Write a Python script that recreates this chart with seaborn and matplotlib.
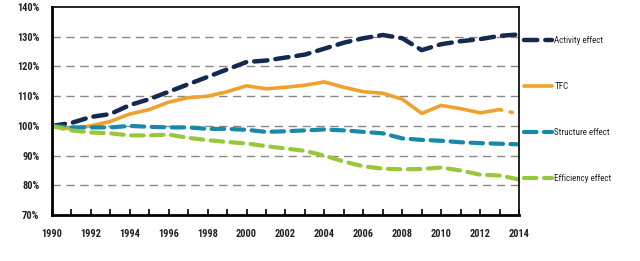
import seaborn as sns
import matplotlib.pyplot as plt
from matplotlib import font_manager
import pandas as pd

years = list(range(1990, 2015))
activity = [100, 101, 103, 104, 107, 109, 111.5, 114, 116.5, 119, 121.5, 122, 123, 124,
            126, 128, 129.5, 130.6, 129.5, 125.5, 127.5, 128.5, 129.2, 130.3, 130.8]
tfc = [100, 99, 100, 101.5, 104, 105.5, 108, 109.5, 110, 111.5, 113.5, 112.5, 113, 113.7,
       114.8, 113, 111.5, 111, 109, 104.2, 106.9, 105.8, 104.4, 105.5]
tfc_2014 = 104
structure = [100, 99.5, 99.5, 99.5, 100, 99.7, 99.5, 99.5, 99, 99, 98.7, 98, 98.2, 98.5,
             98.8, 98.5, 98, 97.5, 95.8, 95.3, 95, 94.5, 94.2, 94, 93.8]
efficiency = [100, 98.5, 97.8, 97.5, 96.8, 96.8, 97.1, 96, 95.2, 94.6, 94.1, 93.2, 92.4, 91.6,
              90, 88, 86.4, 85.6, 85.4, 85.5, 86, 85, 83.6, 83.3, 82]

names = ['Activity effect', 'TFC', 'Structure effect', 'Efficiency effect']
colors = ['#14294f', '#f0a12c', '#1688a8', '#97c83a']

sns.set_style('white')
# narrow font if one is there
installed = {f.name for f in font_manager.fontManager.ttflist}
narrow = [n for n in ['Liberation Sans Narrow', 'DejaVu Sans Condensed', 'Roboto Condensed',
                      'Open Sans Condensed'] if n in installed]
plt.rcParams['font.family'] = narrow[:1] + ['DejaVu Sans']

fig = plt.figure(figsize=(6.4, 2.61), dpi=100)
ax = fig.add_axes([0.081, 0.176, 0.73, 0.797])

for y in [80, 90, 100, 110, 120, 130]:
    ax.axhline(y, color='#888888', lw=1, ls=(0, (6, 4)), zorder=0)

df_act = pd.DataFrame({'year': years, 'value': activity})
df_tfc = pd.DataFrame({'year': years[:-1], 'value': tfc})
df_tfc_end = pd.DataFrame({'year': years[-2:], 'value': [tfc[-1], tfc_2014]})
df_str = pd.DataFrame({'year': years, 'value': structure})
df_eff = pd.DataFrame({'year': years, 'value': efficiency})

dash = (0, (3.0, 1.8))
sns.lineplot(data=df_act, x='year', y='value', color=colors[0], lw=3.2, ls=dash,
             dash_capstyle='round', ax=ax, label=names[0])
sns.lineplot(data=df_tfc, x='year', y='value', color=colors[1], lw=2.6, ax=ax, label=names[1])
sns.lineplot(data=df_tfc_end, x='year', y='value', color=colors[1], lw=2.6, ls=(0, (0.6, 2.4)),
             dash_capstyle='round', ax=ax)
sns.lineplot(data=df_str, x='year', y='value', color=colors[2], lw=3, ls=dash,
             dash_capstyle='round', ax=ax, label=names[2])
sns.lineplot(data=df_eff, x='year', y='value', color=colors[3], lw=3, ls=dash,
             dash_capstyle='round', ax=ax, label=names[3])

ax.set_xlim(1990, 2014)
ax.set_ylim(70, 140)
ax.set_xticks(range(1990, 2015, 2))
ax.set_xticks(range(1990, 2015), minor=True)
ax.set_yticks(range(70, 141, 10))
ax.set_yticklabels([f'{v}%' for v in range(70, 141, 10)])
ax.set_xlabel('')
ax.set_ylabel('')
ax.tick_params(axis='x', which='both', direction='in', length=4, width=1.2, bottom=True, pad=10,
               labelsize=7.5, colors='black')
ax.tick_params(axis='y', length=0, labelsize=7.5, pad=9)
for lab in ax.get_xticklabels() + ax.get_yticklabels():
    lab.set_fontweight('bold')
    lab.set_color('#222222')
for side in ['left', 'bottom']:
    ax.spines[side].set_linewidth(2)
    ax.spines[side].set_color('black')
for side in ['top', 'right']:
    ax.spines[side].set_linewidth(1.2)
    ax.spines[side].set_color('black')

leg = ax.legend(loc='upper left', bbox_to_anchor=(1.0, 0.885), frameon=False, handlelength=3.0,
                handletextpad=0.3, labelspacing=4.1, fontsize=6.5, borderaxespad=0.2)
for t in leg.get_texts():
    t.set_color('#222222')

fig.savefig('out.png', dpi=100)
